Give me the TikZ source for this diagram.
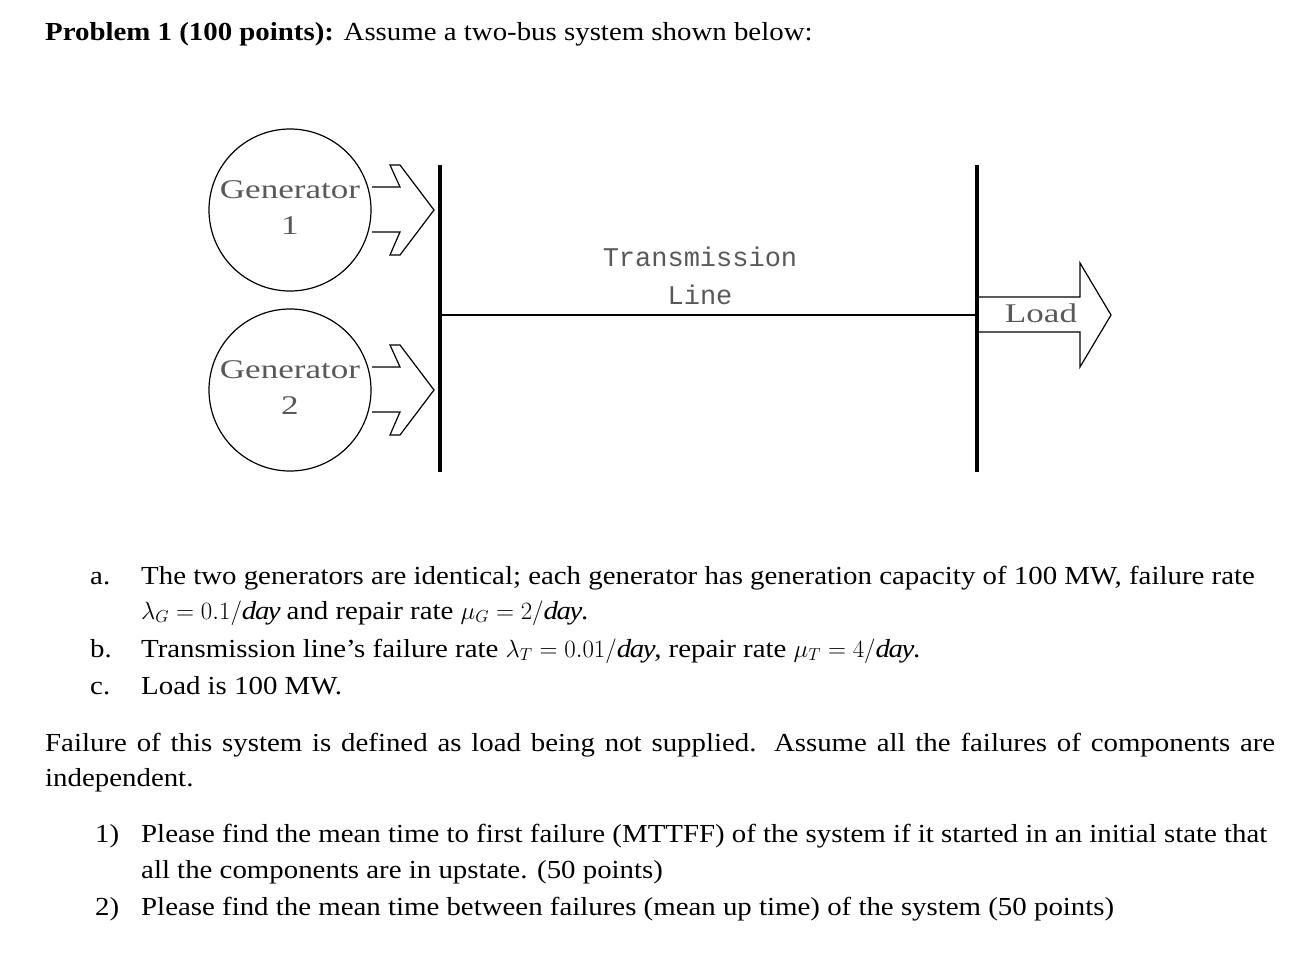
\documentclass[tikz,border=0pt]{standalone}
\usepackage{fontspec}
\setmainfont{Liberation Serif}[FakeStretch=1.11]
\newfontfamily\monof{Liberation Mono}
\newfontfamily\genf{Liberation Serif}[FakeStretch=1.3]
\begin{document}
\begin{tikzpicture}[x=1pt,y=-1pt,
  txt/.style={anchor=base west,inner sep=0pt,font=\fontsize{26}{35.5}\selectfont},
  lbl/.style={inner sep=0pt,text=black!65,font=\genf\fontsize{27}{32}\selectfont},
  gen/.style={draw,circle,minimum size=162pt,line width=1.2pt},
  bus/.style={line width=4.5pt},
  arr/.style={draw,line width=1.2pt,line join=miter}]
\useasboundingbox (0,0) rectangle (1314,953);
\node[txt] (title) at (45,40) {\textbf{Problem 1 (100 points):} Assume a two-bus system shown below:};
% generators
\node[gen] (g1) at (290,210) {};
\node[gen] (g2) at (290,390) {};
\node[lbl,align=center] (g1t) at (290,208) {Generator\\[4pt]1};
\node[lbl,align=center] (g2t) at (290,388) {Generator\\[4pt]2};
\foreach \dy in {0,180}{
  \draw[arr] (372,187+\dy) -- (400,187+\dy) -- (390,165+\dy) -- (400,165+\dy) -- (434,210+\dy)
    -- (400,255+\dy) -- (390,255+\dy) -- (400,232+\dy) -- (372,232+\dy);
}
% buses
\coordinate (b1t) at (440,165); \coordinate (b1b) at (440,472);
\coordinate (b2t) at (977,165); \coordinate (b2b) at (977,472);
\draw[bus] (b1t) -- (b1b);
\draw[bus] (b2t) -- (b2b);
\coordinate (l1) at (440,315); \coordinate (l2) at (977,315);
\draw[line width=1.2pt] (l1) -- (l2);
\node[lbl,align=center,font=\monof\fontsize{27}{38}\selectfont] (tl) at (700,276) {Transmission\\Line};
\draw[arr] (977,297) -- (1080,297) -- (1080,263) -- (1111,315) -- (1080,367) -- (1080,332) -- (977,332);
\node[lbl] (load) at (1041,313) {Load};
% text
\node[txt] (a) at (90,584) {a.};
\node[txt] (at1) at (141,584) {The two generators are identical; each generator has generation capacity of 100 MW, failure rate};
\node[txt] (at2) at (141,619) {$\lambda_G = 0.1/\mathit{day}$ and repair rate $\mu_G = 2/\mathit{day}$.};
\node[txt] (b) at (90,657) {b.};
\node[txt] (bt) at (141,657) {Transmission line’s failure rate $\lambda_T = 0.01/\mathit{day}$, repair rate $\mu_T = 4/\mathit{day}$.};
\node[txt] (c) at (90,694) {c.};
\node[txt] (ct) at (141,694) {Load is 100 MW.};
\node[txt,text width=1230pt,align=justify] (p) at (45,751) {Failure of this system is defined as load being not supplied. Assume all the failures of components are independent.};
\node[txt] (n1) at (95,842) {1)};
\node[txt] (n1a) at (141,842) {Please find the mean time to first failure (MTTFF) of the system if it started in an initial state that};
\node[txt] (n1b) at (141,878) {all the components are in upstate. (50 points)};
\node[txt] (n2) at (95,915) {2)};
\node[txt] (n2a) at (141,915) {Please find the mean time between failures (mean up time) of the system (50 points)};
\end{tikzpicture}
\end{document}
